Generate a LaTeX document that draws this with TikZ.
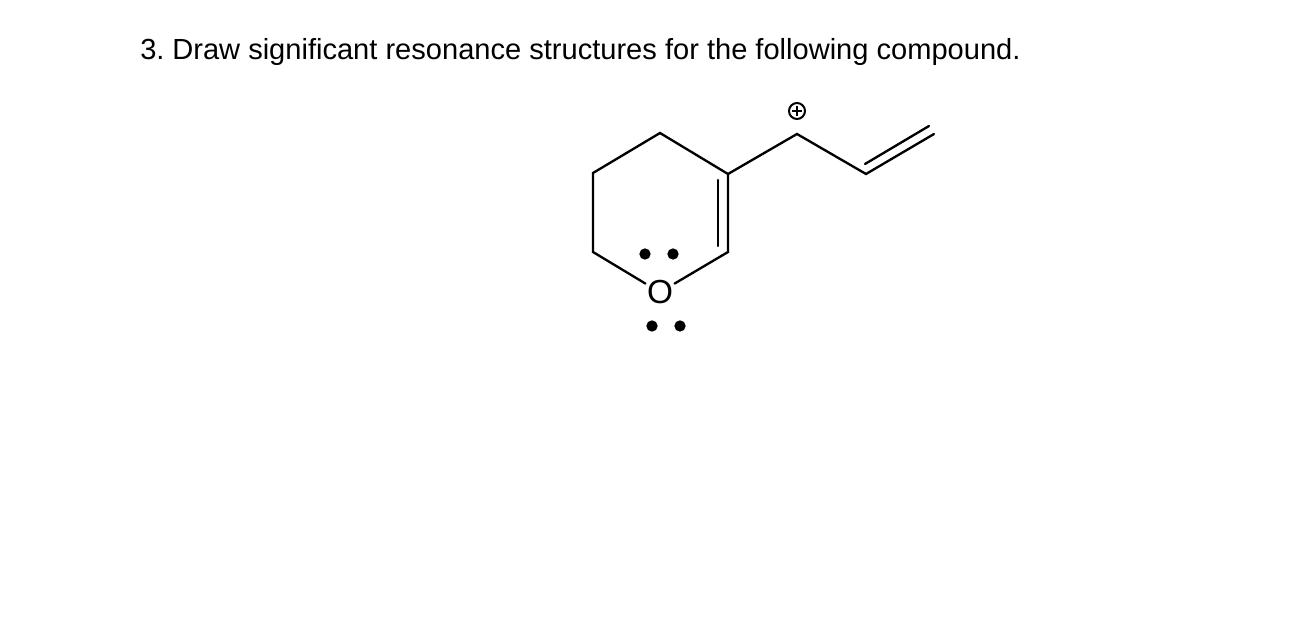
\documentclass[tikz,border=0pt]{standalone}
\usepackage{fontspec}
\setmainfont{Liberation Sans}
\begin{document}
\begin{tikzpicture}[x=0.75pt,y=-0.75pt,bond/.style={line width=1.75pt,line cap=round,line join=miter},dot/.style={circle,fill=black,inner sep=0pt,minimum size=8.5pt}]
\useasboundingbox (0,0) rectangle (1310,634);
\node[anchor=base west,inner sep=0pt,font=\fontsize{21.8pt}{26pt}\selectfont] (title) at (140,60) {3.\hspace{-0.1em} Draw significant resonance structures for the following compound.};
\coordinate (a) at (660,133);
\coordinate (b) at (728,174);
\coordinate (c) at (728,252);
\node[inner sep=1pt,font=\fontsize{25pt}{28pt}\selectfont] (o) at (660,292) {O};
\coordinate (e) at (593,252);
\coordinate (f) at (593,173);
\coordinate (g) at (797,134);
\coordinate (h) at (866,174);
\coordinate (i) at (934,134);
\draw[bond] (o.150) -- (e) -- (f) -- (a) -- (b) -- (c) -- (o.30);
\draw[bond] (718,180) -- (718,246);
\draw[bond] (b) -- (g) -- (h) -- (i);
\draw[bond] (865,164) -- (929,126);
\node[dot] (d1) at (645,254) {};
\node[dot] (d2) at (673,254) {};
\node[dot] (d3) at (652,326) {};
\node[dot] (d4) at (680,326) {};
\node[circle,draw,line width=1.5pt,minimum size=12pt,inner sep=0pt] (plus) at (797,111) {};
\draw[line width=1.6pt] (792,111) -- (802,111);
\draw[line width=1.6pt] (797,106) -- (797,116);
\end{tikzpicture}
\end{document}
